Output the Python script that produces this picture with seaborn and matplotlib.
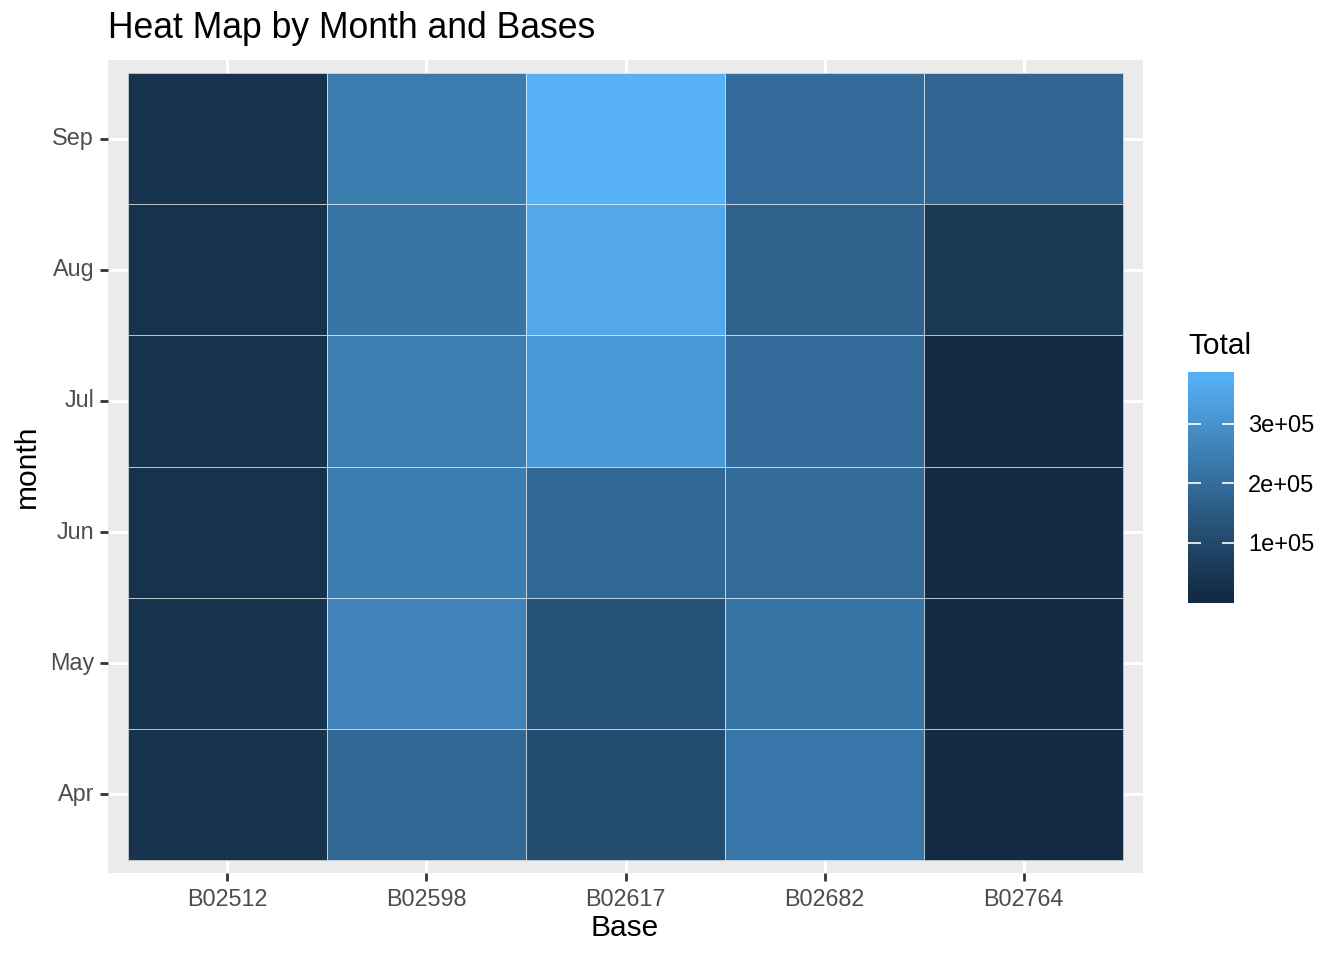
import numpy as np
import pandas as pd
import matplotlib
matplotlib.use("Agg")
import matplotlib.pyplot as plt
import seaborn as sns
from matplotlib.colors import ListedColormap, to_rgb

# ---- data ----
months = ["Apr", "May", "Jun", "Jul", "Aug", "Sep"]
bases = ["B02512", "B02598", "B02617", "B02682", "B02764"]
b02512 = [35536, 36765, 32509, 35021, 31472, 34370]
b02598 = [183263, 260549, 242975, 245597, 220129, 240600]
b02617 = [108001, 122734, 184460, 310160, 355803, 377695]
b02682 = [227808, 222883, 194926, 196754, 173280, 197138]
b02764 = [9908, 9504, 8974, 8589, 48591, 178333]
cbar_ticks = [100000, 200000, 300000]
cbar_labels = ["1e+05", "2e+05", "3e+05"]

df = pd.DataFrame({"B02512": b02512, "B02598": b02598, "B02617": b02617,
                   "B02682": b02682, "B02764": b02764}, index=months)
df = df.loc[months[::-1], bases]  # Sep on top

# ---- ggplot-like Lab gradient ----
M = np.array([[0.4124, 0.3576, 0.1805], [0.2126, 0.7152, 0.0722], [0.0193, 0.1192, 0.9505]])
WP = np.array([0.95047, 1.0, 1.08883])

def srgb_to_lab(c):
    c = np.array(c)
    lin = np.where(c <= 0.04045, c / 12.92, ((c + 0.055) / 1.055) ** 2.4)
    t = (M @ lin) / WP
    f = np.where(t > (6/29)**3, np.cbrt(t), t / (3*(6/29)**2) + 4/29)
    return np.array([116*f[1]-16, 500*(f[0]-f[1]), 200*(f[1]-f[2])])

def lab_to_srgb(lab):
    L, a, b = lab
    fy = (L + 16) / 116
    fx = fy + a / 500
    fz = fy - b / 200
    def finv(f):
        return f**3 if f > 6/29 else 3*(6/29)**2*(f - 4/29)
    xyz = np.array([finv(fx), finv(fy), finv(fz)]) * WP
    lin = np.clip(np.linalg.inv(M) @ xyz, 0, 1)
    c = np.where(lin <= 0.0031308, 12.92*lin, 1.055*lin**(1/2.4) - 0.055)
    return np.clip(c, 0, 1)

lo = srgb_to_lab(to_rgb("#132B43"))
hi = srgb_to_lab(to_rgb("#56B1F7"))
cmap = ListedColormap([lab_to_srgb(lo + (hi - lo) * t) for t in np.linspace(0, 1, 256)])

# ---- figure ----
W, H = 1344, 960
fig = plt.figure(figsize=(W/100, H/100), dpi=100)
plt.rcParams["font.family"] = ["Liberation Sans", "DejaVu Sans"]

ax = fig.add_axes([108/W, 1 - 873/H, 1035/W, 813/H])
cax = fig.add_axes([1188/W, 1 - 603/H, 46/W, 231/H])

vmin, vmax = df.values.min(), df.values.max()
sns.heatmap(df, ax=ax, cmap=cmap, vmin=vmin, vmax=vmax, linewidths=0.6,
            linecolor=(1, 1, 1, 0.7), cbar=False)

ax.set_facecolor("#EBEBEB")
ax.set_xlim(-0.1, 5.1)
ax.set_ylim(6.1, -0.1)
ax.set_axisbelow(True)
ax.grid(True, color="white", linewidth=2.2)
for s in ax.spines.values():
    s.set_visible(False)
ax.set_xticks(np.arange(5) + 0.5)
ax.set_xticklabels(bases, rotation=0)
ax.set_yticks(np.arange(6) + 0.5)
ax.set_yticklabels(months[::-1], rotation=0)
ax.tick_params(axis="both", length=6, width=2, color="#333333", labelcolor="#4D4D4D",
               labelsize=16.8)
ax.tick_params(axis="x", pad=5)
ax.tick_params(axis="y", pad=4)
ax.set_xlabel("")
ax.set_ylabel("")

fig.text(625/W, 1 - 928/H, "Base", ha="center", va="center", fontsize=21.5, color="black")
fig.text(27/W, 1 - 466/H, "month", ha="center", va="center", rotation=90, fontsize=21.5, color="black")
fig.text(108/W, 1 - 28/H, "Heat Map by Month and Bases", ha="left", va="center",
         fontsize=25.6, color="black")
fig.text(1188/W, 1 - 346/H, "Total", ha="left", va="center", fontsize=21.5, color="black")

# colorbar (ggplot style: 20 bins, bar extends half a bin beyond limits)
nbin = 20
d = (vmax - vmin) / (nbin - 1)
grad = np.linspace(vmin, vmax, nbin)[:, None]
cax.imshow(grad, extent=[0, 1, vmin - d/2, vmax + d/2], origin="lower", aspect="auto",
           cmap=cmap, vmin=vmin, vmax=vmax, interpolation="bilinear")
cax.set_xlim(0, 1)
cax.set_ylim(vmin - d/2, vmax + d/2)
for s in cax.spines.values():
    s.set_visible(False)
cax.set_xticks([])
cax.set_yticks(cbar_ticks)
cax.set_yticklabels(cbar_labels)
cax.yaxis.tick_right()
cax.tick_params(axis="y", left=True, right=True, direction="in", length=9, width=1.2,
                color="white", labelcolor="black", labelsize=17, pad=10)

fig.savefig("out.png", dpi=100, facecolor="white")
